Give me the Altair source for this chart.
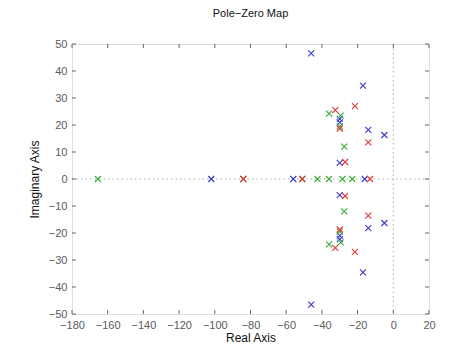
import altair as alt
import pandas as pd

# Pole/zero locations (real, imaginary)
blue_re = [-46, -46, -17, -17, -30, -30, -30, -30, -14, -14, -5, -5, -30, -30, -56, -102, -16]
blue_im = [46.5, -46.5, 34.6, -34.6, 22.3, -22.3, 21.0, -21.0, 18.2, -18.2, 16.3, -16.3, 6.0, -6.0, 0, 0, 0]

green_re = [-36, -36, -29.5, -29.5, -30, -30, -27.5, -27.5, -165.5, -84, -51, -42.5, -36, -28.5, -23]
green_im = [24.2, -24.2, 23.5, -23.5, 19.5, -19.5, 12.0, -12.0, 0, 0, 0, 0, 0, 0, 0]

red_re = [-21.5, -21.5, -32.5, -32.5, -30, -30, -14, -14, -27, -27, -84, -51, -13]
red_im = [27.0, -27.0, 25.5, -25.5, 18.7, -18.7, 13.6, -13.6, 6.3, -6.3, 0, 0, 0]

x_ticks = [-180, -160, -140, -120, -100, -80, -60, -40, -20, 0, 20]
y_ticks = [-50, -40, -30, -20, -10, 0, 10, 20, 30, 40, 50]

X_DOM = [-180, 20]
Y_DOM = [-50, 50]

rows = []
for name, re, im in (("blue", blue_re, blue_im), ("green", green_re, green_im), ("red", red_re, red_im)):
    for a, b in zip(re, im):
        rows.append({"sys": name, "re": a, "im": b})
pts = pd.DataFrame(rows)

xs = alt.Scale(domain=X_DOM, nice=False, zero=False)
ys = alt.Scale(domain=Y_DOM, nice=False, zero=False)

FONT = "Liberation Sans"
FRAME = "#666666"
LABEL = "#5a5a5a"

xaxis = alt.Axis(values=x_ticks, grid=False, tickSize=0, domain=False, labelPadding=5,
                 labelOverlap=False, labelFlush=False,
                 labelFontSize=11, labelColor=LABEL, labelFont=FONT,
                 title="Real Axis", titleFont=FONT, titleFontSize=12, titleFontWeight="normal",
                 titleColor="#111111", titlePadding=2)
yaxis = alt.Axis(values=y_ticks, grid=False, tickSize=0, domain=False, labelPadding=5,
                 labelOverlap=False, labelFlush=False,
                 labelFontSize=11, labelColor=LABEL, labelFont=FONT,
                 title="Imaginary Axis", titleFont=FONT, titleFontSize=12, titleFontWeight="normal",
                 titleColor="#111111", titlePadding=7)

xshape = "M-1,-1L1,1M-1,1L1,-1"

points = alt.Chart(pts).mark_point(shape=xshape, filled=False, size=36, strokeWidth=1.1, opacity=1).encode(
    x=alt.X("re:Q", scale=xs, axis=xaxis, title="Real Axis"),
    y=alt.Y("im:Q", scale=ys, axis=yaxis, title="Imaginary Axis"),
    color=alt.Color("sys:N", scale=alt.Scale(domain=["blue", "green", "red"],
                                             range=["#3838d4", "#3caa3c", "#e03636"]), legend=None),
    order=alt.Order("sys:N"),
)

zero_h = alt.Chart(pd.DataFrame({"v": [0]})).mark_rule(color="#aaaaaa", strokeDash=[1.5, 3], strokeWidth=1).encode(
    y=alt.Y("v:Q", scale=ys, axis=yaxis, title="Imaginary Axis"), x=alt.value(0), x2=alt.value(357))
zero_v = alt.Chart(pd.DataFrame({"v": [0]})).mark_rule(color="#aaaaaa", strokeDash=[1.5, 3], strokeWidth=1).encode(
    x=alt.X("v:Q", scale=xs, axis=xaxis, title="Real Axis"), y=alt.value(0), y2=alt.value(270))

xt = pd.DataFrame({"t": x_ticks})
yt = pd.DataFrame({"t": y_ticks})
tick_b = alt.Chart(xt).mark_rule(color=FRAME).encode(
    x=alt.X("t:Q", scale=xs, axis=xaxis, title="Real Axis"), y=alt.value(270), y2=alt.value(266))
tick_t = alt.Chart(xt).mark_rule(color=FRAME).encode(
    x=alt.X("t:Q", scale=xs, axis=xaxis, title="Real Axis"), y=alt.value(0), y2=alt.value(4))
tick_l = alt.Chart(yt).mark_rule(color=FRAME).encode(
    y=alt.Y("t:Q", scale=ys, axis=yaxis, title="Imaginary Axis"), x=alt.value(0), x2=alt.value(4))
tick_r = alt.Chart(yt).mark_rule(color=FRAME).encode(
    y=alt.Y("t:Q", scale=ys, axis=yaxis, title="Imaginary Axis"), x=alt.value(357), x2=alt.value(353))

chart = alt.layer(zero_h, zero_v, tick_b, tick_t, tick_l, tick_r, points).properties(
    width=357, height=270,
    autosize=alt.AutoSizeParams(type="none"),
    padding={"left": 72, "top": 44, "right": 45, "bottom": 41},
    title=alt.Title("Pole\u2212Zero Map", font=FONT, fontSize=11, fontWeight="normal", color="#111111",
                    offset=19, anchor="middle"),
).configure_view(stroke=FRAME, strokeWidth=1).configure(background="white")

chart.save("out.html", embed_options={"renderer": "svg", "actions": False})
